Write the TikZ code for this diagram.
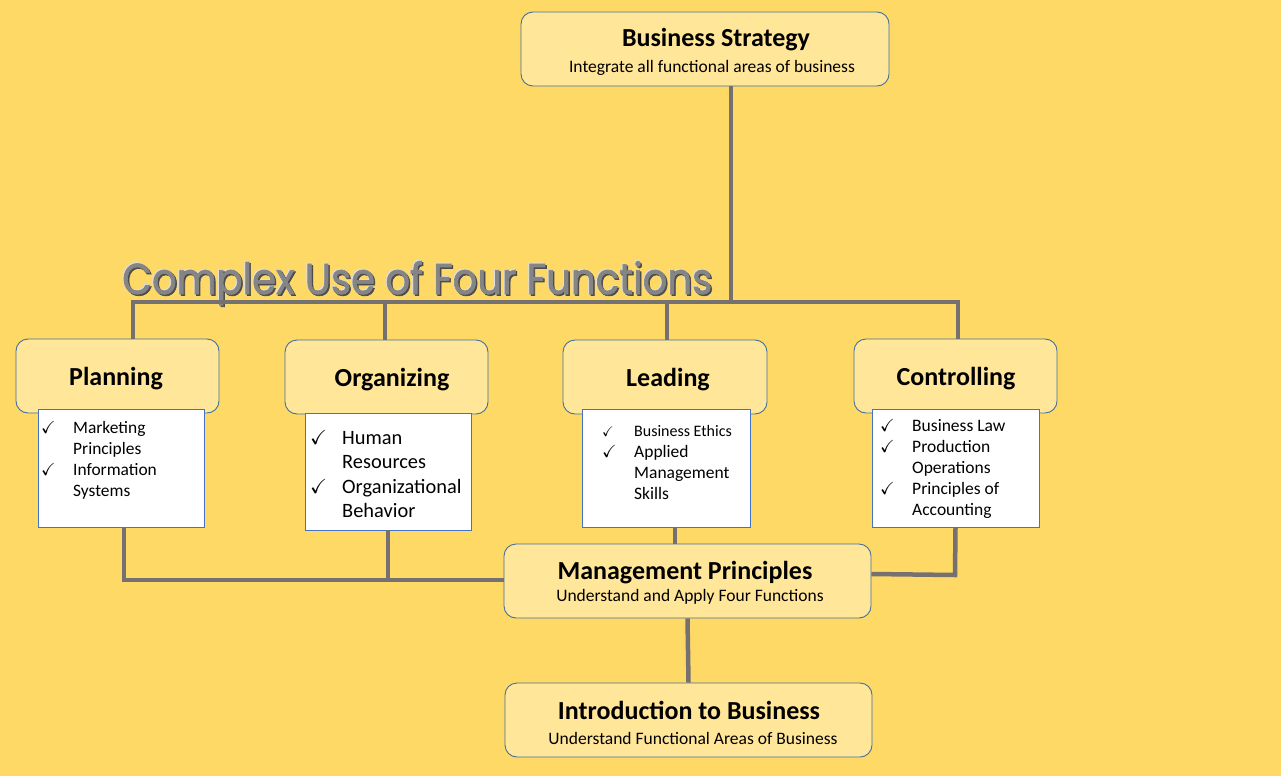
\documentclass[tikz,border=0pt]{standalone}
\usepackage{fontspec}
\usepackage{amssymb}
\setmainfont{Carlito}
\newfontfamily\titlefont[FakeBold=1.6]{Poppins}
\definecolor{bgyellow}{RGB}{255,217,102}
\definecolor{boxfill}{RGB}{255,230,153}
\definecolor{boxblue}{RGB}{65,113,156}
\definecolor{listblue}{RGB}{68,114,196}
\definecolor{conngray}{RGB}{118,113,113}
\newcommand{\fs}[2]{\fontsize{#1}{#2}\selectfont}
\newcommand{\ck}{\makebox[32pt][l]{$\checkmark$}}
\newcommand{\nc}{\hspace*{32pt}}
\tikzset{
  stage/.style={draw=boxblue, fill=boxfill, line width=0.9pt, rounded corners=12pt,
    inner sep=0pt, minimum width=#1, minimum height=74pt},
  listbox/.style={draw=listblue, fill=white, line width=0.9pt, inner sep=0pt},
  head/.style={font=\bfseries\fs{26}{30}, inner sep=0pt},
  sub/.style={font=\fs{17.5}{21}, inner sep=0pt},
  items/.style={anchor=north west, inner sep=0pt, align=left},
  conn/.style={draw=conngray, line width=4.5pt}
}
\begin{document}
\begin{tikzpicture}[x=1pt, y=-1pt]
  \fill[bgyellow] (0,0) rectangle (1281,776);
  \useasboundingbox (0,0) rectangle (1281,776);
  % title
  \node[anchor=base west, inner sep=0pt, text=gray!25] (ttl-hl) at (121,293)
    {\resizebox{590pt}{33pt}{\titlefont Complex Use of Four Functions}};
  \node[anchor=base west, inner sep=0pt, text=black!70] (ttl-sh) at (123.5,295.5)
    {\resizebox{590pt}{33pt}{\titlefont Complex Use of Four Functions}};
  \node[anchor=base west, inner sep=0pt, text=black!48] (ttl) at (122,294)
    {\resizebox{590pt}{33pt}{\titlefont Complex Use of Four Functions}};
  % connectors above
  \coordinate (bus) at (731,302);
  \coordinate (p1) at (133,302);
  \coordinate (p2) at (385,302);
  \coordinate (p3) at (667,302);
  \coordinate (p4) at (958,302);
  % stages
  \node[stage=368pt] (strat) at (705,49) {};
  \node[stage=203pt] (plan) at (117.5,376) {};
  \node[stage=203pt] (org) at (386.5,377) {};
  \node[stage=204pt] (lead) at (665,377) {};
  \node[stage=203pt] (ctrl) at (955.5,376) {};
  \node[stage=367pt] (mgmt) at (687.5,581) {};
  \node[stage=367pt] (intro) at (688.5,720) {};
  \draw[conn] (strat.south -| bus) -- (bus);
  \draw[conn, line cap=rect] (p1) -- (p4);
  \foreach \p/\n in {p1/plan, p2/org, p3/lead, p4/ctrl}
    \draw[conn] (\p) -- (\p |- \n.north);
  % stage labels
  \node[head] (strat-h) at (716,39.5) {Business Strategy};
  \node[sub] (strat-s) at (712,68) {Integrate all functional areas of business};
  \node[head] (plan-h) at (116,378.5) {Planning};
  \node[head] (org-h) at (392,379.5) {Organizing};
  \node[head] (lead-h) at (668,379.5) {Leading};
  \node[head] (ctrl-h) at (956,378.5) {Controlling};
  \node[head] (mgmt-h) at (685,572.5) {Management Principles};
  \node[sub] (mgmt-s) at (690,596.5) {Understand and Apply Four Functions};
  \node[head] (intro-h) at (689,710.5) {Introduction to Business};
  \node[sub] (intro-s) at (693,738) {Understand Functional Areas of Business};
  % lists
  \node[listbox, minimum width=166pt, minimum height=118pt] (planlist) at (121,468) {};
  \node[listbox, minimum width=166pt, minimum height=117pt] (orglist) at (388,471.5) {};
  \node[listbox, minimum width=168pt, minimum height=118pt] (leadlist) at (666,468) {};
  \node[listbox, minimum width=167pt, minimum height=118pt] (ctrllist) at (955.5,468) {};
  \node[items, font=\fs{17.4}{21}] (plan-i) at (41,421)
    {\ck Marketing\\ \nc Principles\\ \ck Information\\ \nc Systems};
  \node[items, font=\fs{20.4}{24.4}] (org-i) at (310,430)
    {\ck Human\\ \nc Resources\\ \ck Organizational\\ \nc Behavior};
  \node[items, font=\fs{17.5}{21}] (lead-i) at (602,425)
    {{\fs{16}{21}\makebox[32pt][l]{\fs{14}{21}$\checkmark$}Business Ethics}\\ \ck Applied\\ \nc Management\\ \nc Skills};
  \node[items, font=\fs{17.5}{21}] (ctrl-i) at (880,419)
    {\ck Business Law\\ \ck Production\\ \nc Operations\\ \ck Principles of\\ \nc Accounting};
  % connectors below
  \coordinate (b1) at (124,580);
  \coordinate (b3) at (675,544);
  \coordinate (b4) at (955,575);
  \draw[conn] (planlist.south -| b1) -- (b1) -- (b1 -| mgmt.west);
  \draw[conn] (orglist.south) -- (orglist.south |- b1);
  \draw[conn] (leadlist.south -| b3) -- (b3);
  \draw[conn] (ctrllist.south) -- (b4) -- ([yshift=7pt]mgmt.east);
  \draw[conn] (mgmt.south) -- (intro.north);
\end{tikzpicture}
\end{document}
